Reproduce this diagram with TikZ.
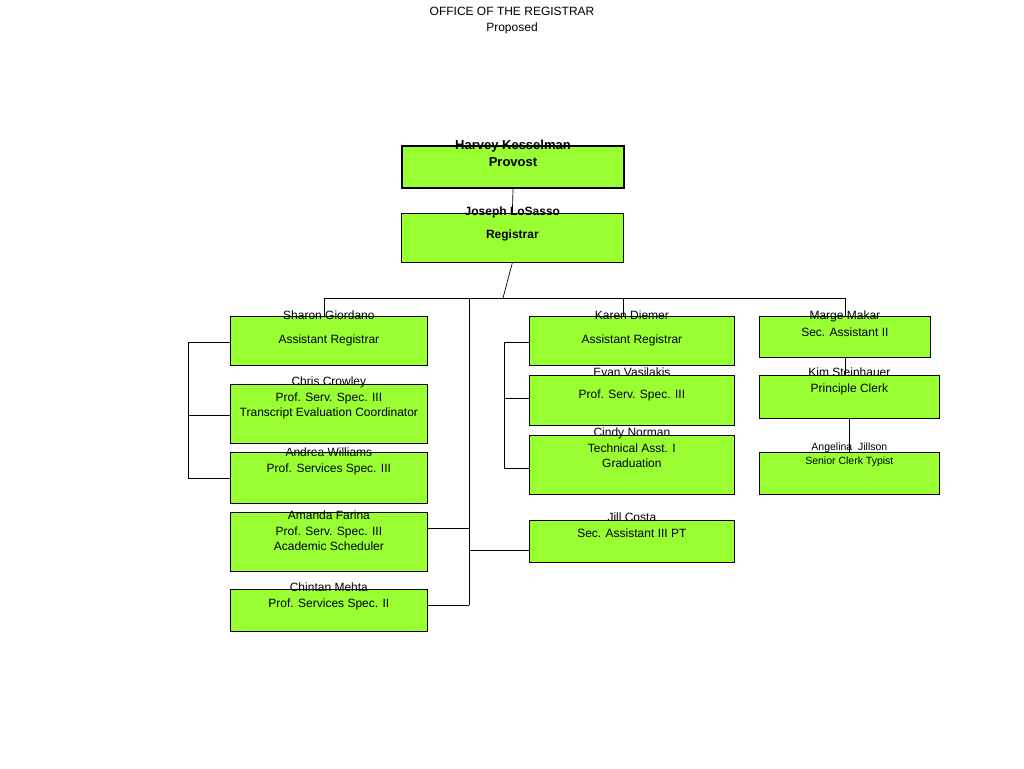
\documentclass[tikz,border=0pt]{standalone}
\usepackage{fontspec}
\setmainfont{Liberation Sans}
\begin{document}
\begin{tikzpicture}[x=1pt,y=-1pt,
  box/.style={draw,fill=boxg,line width=0.7pt,inner sep=0pt,anchor=north west},
  txt/.style={anchor=north,align=center,inner sep=0pt,font=\fontsize{12}{15.5}\selectfont},
  ln/.style={line width=0.7pt}]
\definecolor{boxg}{HTML}{99FF33}
\useasboundingbox (0,0) rectangle (1024,768);
\newcommand{\bx}[5]{\node[box,minimum width=#4-#2,minimum height=#5-#3] (#1) at (#2,#3) {};}
\node[txt] (t1) at (512,7) {OFFICE OF THE REGISTRAR\\Proposed};
\node[box,line width=2pt,minimum width=222,minimum height=42] (harvey) at (401,145) {};
\node[txt,font=\bfseries\fontsize{13}{17}\selectfont] at ([yshift=5]harvey.north) {Harvey Kesselman\\Provost};
\bx{joseph}{401}{213}{623}{262}
\node[txt,font=\bfseries\fontsize{12}{23}\selectfont] at ([yshift=6]joseph.north) {Joseph LoSasso\\Registrar};
\bx{sharon}{230}{316}{427}{365}
\node[txt,font=\fontsize{12}{24}\selectfont] at ([yshift=5]sharon.north) {Sharon Giordano\\Assistant Registrar};
\bx{chris}{230}{384}{427}{443}
\node[txt] at ([yshift=7]chris.north) {Chris Crowley\\Prof. Serv. Spec. III\\Transcript Evaluation Coordinator};
\bx{andrea}{230}{452}{427}{503}
\node[txt] at ([yshift=4]andrea.north) {Andrea Williams\\Prof. Services Spec. III};
\bx{amanda}{230}{512}{427}{571}
\node[txt] at ([yshift=1]amanda.north) {Amanda Farina\\Prof. Serv. Spec. III\\Academic Scheduler};
\bx{chintan}{230}{589}{427}{631}
\node[txt] at ([yshift=6]chintan.north) {Chintan Mehta\\Prof. Services Spec. II};
\bx{karen}{529}{316}{734}{365}
\node[txt,font=\fontsize{12}{24}\selectfont] at ([yshift=5]karen.north) {Karen Diemer\\Assistant Registrar};
\bx{evan}{529}{375}{734}{425}
\node[txt,font=\fontsize{12}{22}\selectfont] at ([yshift=7]evan.north) {Evan Vasilakis\\Prof. Serv. Spec. III};
\bx{cindy}{529}{435}{734}{494}
\node[txt] at ([yshift=7]cindy.north) {Cindy Norman\\Technical Asst. I\\Graduation};
\bx{jill}{529}{520}{734}{562}
\node[txt] at ([yshift=7]jill.north) {Jill Costa\\Sec. Assistant III PT};
\bx{marge}{759}{316}{930}{357}
\node[txt,font=\fontsize{12}{17}\selectfont] at ([yshift=5]marge.north) {Marge Makar\\Sec. Assistant II};
\bx{kim}{759}{375}{939}{418}
\node[txt] at ([yshift=7]kim.north) {Kim Steinhauer\\Principle Clerk};
\bx{ang}{759}{452}{939}{494}
\node[txt,font=\fontsize{10.5}{14}\selectfont] at ([yshift=9]ang.north) {Angelina~ Jillson\\Senior Clerk Typist};
% connectors
\coordinate (hub) at (503,298);
\draw[ln] (harvey.south) -- (joseph.north);
\draw[ln] (joseph.south) -- (hub);
\draw[ln] (324,298) -- (845,298);
\draw[ln] (324,298) -- (sharon.north -| 324,0);
\draw[ln] (623,298) -- (karen.north -| 623,0);
\draw[ln] (845,298) -- (marge.north -| 845,0);
\draw[ln] (469,298) -- (469,605);
\draw[ln] (amanda.east |- 0,528) -- (469,528);
\draw[ln] (469,550) -- (jill.west |- 0,550);
\draw[ln] (chintan.east |- 0,605) -- (469,605);
\draw[ln] (188,342) -- (188,478);
\draw[ln] (188,342) -- (sharon.west |- 0,342);
\draw[ln] (188,415) -- (chris.west |- 0,415);
\draw[ln] (188,478) -- (andrea.west |- 0,478);
\draw[ln] (504,342) -- (504,468);
\draw[ln] (504,342) -- (karen.west |- 0,342);
\draw[ln] (504,398) -- (evan.west |- 0,398);
\draw[ln] (504,468) -- (cindy.west |- 0,468);
\draw[ln] (marge.south -| 845,0) -- (kim.north -| 845,0);
\draw[ln] (kim.south -| 849,0) -- (ang.north -| 849,0);
\end{tikzpicture}
\end{document}
